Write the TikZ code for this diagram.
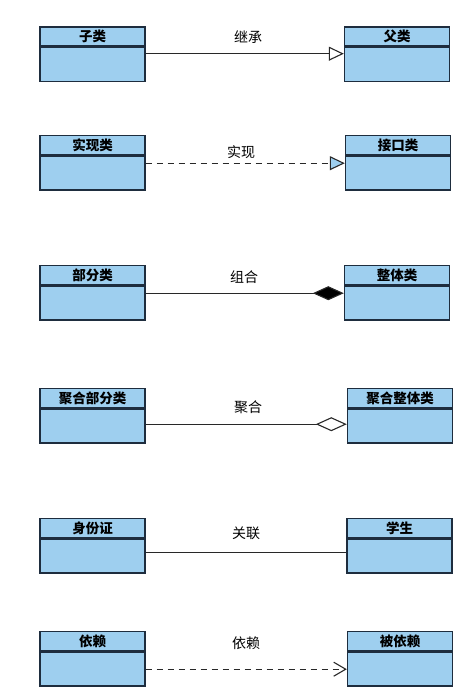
\documentclass[tikz,border=0pt]{standalone}
\usepackage{fontspec}
\setmainfont{Noto Sans CJK SC}
\usetikzlibrary{positioning,arrows.meta}
\definecolor{clsfill}{RGB}{158,207,239}
\definecolor{clsline}{RGB}{30,45,62}
\definecolor{relline}{RGB}{40,40,40}

\begin{document}
\begin{tikzpicture}[x=1pt, y=-1pt,
        head/.style={rectangle, draw=clsline, fill=clsfill, line width=1.4pt, minimum width=105pt, minimum height=19pt, inner sep=0pt, font=\bfseries\fontsize{13.5}{14}\selectfont},
        body/.style={rectangle, draw=clsline, fill=clsfill, line width=1.4pt, minimum width=105pt, minimum height=34pt, inner sep=0pt, below=0pt of #1},
        rel/.style={draw=relline, line width=1.1pt},
        dep/.style={rel, dash pattern=on 6pt off 5pt},
        lbl/.style={font=\fontsize{14}{15}\selectfont, inner sep=0pt}]
        \useasboundingbox (0,0) rectangle (474,696);
        % inheritance
        \node[head] (zilei) at (92.5,36.5) {子类};
        \node[body=zilei] (zileib) {};
        \node[head] (fulei) at (397,36.5) {父类};
        \node[body=fulei] (fuleib) {};
        \draw[rel, -{Triangle[length=15pt, width=14pt, fill=white]}] ([yshift=-7pt]zileib.north east) -- ([yshift=-7pt]fuleib.north west);
        \node[lbl] (jicheng) at (248,37) {继承};
        % realization
        \node[head] (shixian) at (92.5,145) {实现类};
        \node[body=shixian] (shixianb) {};
        \node[head] (jiekou) at (398,145) {接口类};
        \node[body=jiekou] (jiekoub) {};
        \draw[dep, -{Triangle[length=15pt, width=14pt, fill=clsfill]}] ([yshift=-8pt]shixianb.north east) -- ([yshift=-8pt]jiekoub.north west);
        \node[lbl] (shixianl) at (241,152) {实现};
        % composition
        \node[head] (bufen) at (92.5,275) {部分类};
        \node[body=bufen] (bufenb) {};
        \node[head] (zhengti) at (397,275) {整体类};
        \node[body=zhengti] (zhengtib) {};
        \draw[rel, -{Diamond[length=31pt, width=14pt, fill=black]}] ([yshift=-8pt]bufenb.north east) -- ([yshift=-8pt]zhengtib.north west);
        \node[lbl] (zuhe) at (244,277) {组合};
        % aggregation
        \node[head] (jbufen) at (92.5,398) {聚合部分类};
        \node[body=jbufen] (jbufenb) {};
        \node[head] (jzhengti) at (400,398) {聚合整体类};
        \node[body=jzhengti] (jzhengtib) {};
        \draw[rel, -{Diamond[length=31pt, width=14pt, fill=white]}] ([yshift=-16pt]jbufenb.north east) -- ([yshift=-16pt]jzhengtib.north west);
        \node[lbl] (juhe) at (248,407) {聚合};
        % association
        \node[head] (sfz) at (92.5,528) {身份证};
        \node[body=sfz] (sfzb) {};
        \node[head] (xuesheng) at (399.5,528) {学生};
        \node[body=xuesheng] (xueshengb) {};
        \draw[rel] ([yshift=-14pt]sfzb.north east) -- ([yshift=-14pt]xueshengb.north west);
        \node[lbl] (guanlian) at (246,533) {关联};
        % dependency
        \node[head] (yilai) at (92.5,641) {依赖};
        \node[body=yilai] (yilaib) {};
        \node[head] (beiyilai) at (400,641) {被依赖};
        \node[body=beiyilai] (beiyilaib) {};
        \draw[dep, -{Straight Barb[length=12pt, width=14pt]}] ([yshift=-18pt]yilaib.north east) -- ([yshift=-18pt]beiyilaib.north west);
        \node[lbl] (yilail) at (246,643) {依赖};
    \end{tikzpicture}
\end{document}
